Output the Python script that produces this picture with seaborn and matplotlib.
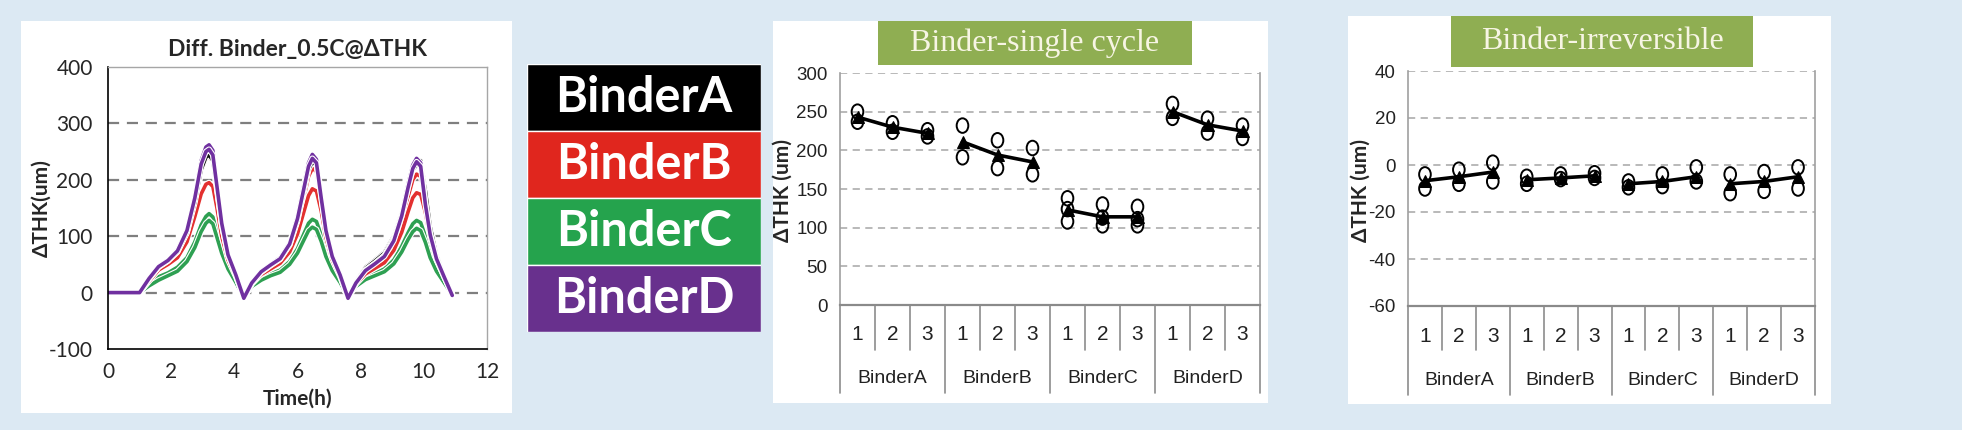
import matplotlib
matplotlib.use("Agg")
import matplotlib.pyplot as plt
import matplotlib.patheffects as pe
import matplotlib.transforms as mtransforms
from matplotlib.patches import Rectangle
from matplotlib.path import Path
import numpy as np
import pandas as pd
import seaborn as sns

# ---- data ------------------------------------------------------------------
binders = ["BinderA", "BinderB", "BinderC", "BinderD"]
cycles = ["1", "2", "3"]

# left panel: thickness change vs time, two runs per binder
time_h = [0, 1.0, 1.3, 1.6, 1.9, 2.2, 2.5, 2.75, 2.95, 3.1, 3.2, 3.32, 3.45, 3.6, 3.8, 4.05, 4.3,
          4.55, 4.85, 5.15, 5.45, 5.75, 6.0, 6.2, 6.35, 6.47, 6.6, 6.75, 6.9, 7.1, 7.35, 7.6,
          7.85, 8.15, 8.45, 8.75, 9.05, 9.3, 9.5, 9.65, 9.77, 9.9, 10.05, 10.2, 10.4, 10.65, 10.9]

binder_a_runs = [
    [0, 0, 24, 46, 57, 73, 108, 165, 224, 247, 250, 240, 185, 122, 68, 32, -10,
     17, 37, 49, 61, 86, 130, 183, 224, 238, 232, 175, 115, 68, 33, -10,
     20, 45, 58, 72, 100, 143, 192, 224, 232, 234, 185, 120, 68, 30, -3],
    [0, 0, 24, 45, 56, 72, 106, 160, 218, 240, 244, 234, 182, 120, 66, 31, -10,
     16, 36, 48, 59, 84, 127, 178, 218, 232, 226, 172, 113, 66, 32, -10,
     19, 43, 56, 70, 97, 139, 186, 218, 226, 228, 180, 117, 66, 29, -3],
]
binder_b_runs = [
    [0, 0, 22, 44, 55, 70, 103, 158, 215, 237, 241, 232, 180, 118, 66, 32, -8,
     16, 35, 46, 57, 80, 120, 168, 206, 220, 215, 168, 112, 66, 32, -9,
     16, 37, 48, 60, 85, 125, 170, 200, 210, 206, 165, 110, 65, 30, -2],
    [0, 0, 20, 40, 50, 62, 90, 135, 175, 192, 195, 188, 150, 100, 58, 28, -8,
     15, 32, 42, 52, 72, 104, 143, 172, 184, 180, 145, 98, 58, 28, -9,
     15, 33, 43, 53, 75, 107, 143, 168, 177, 174, 142, 97, 58, 27, -2],
]
binder_c_runs = [
    [0, 0, 15, 28, 35, 45, 62, 90, 120, 135, 140, 134, 108, 78, 48, 22, -8,
     12, 25, 33, 40, 55, 78, 104, 123, 130, 126, 102, 72, 44, 20, -8,
     12, 26, 34, 42, 58, 82, 106, 122, 128, 124, 100, 70, 42, 19, -4],
    [0, 0, 12, 22, 30, 38, 55, 80, 108, 123, 128, 122, 98, 70, 42, 18, -8,
     11, 22, 30, 36, 50, 70, 93, 110, 116, 112, 91, 64, 39, 18, -8,
     11, 23, 30, 37, 51, 72, 94, 108, 114, 110, 89, 62, 38, 17, -4],
]
binder_d_runs = [
    [0, 0, 26, 47, 58, 76, 112, 172, 234, 258, 262, 252, 192, 125, 68, 32, -10,
     18, 38, 50, 62, 88, 135, 190, 230, 245, 236, 172, 112, 66, 32, -10,
     18, 40, 52, 66, 95, 140, 192, 226, 238, 230, 160, 105, 62, 28, -5],
    [0, 0, 25, 46, 57, 74, 110, 168, 228, 250, 254, 244, 188, 123, 67, 31, -10,
     17, 37, 49, 60, 86, 131, 184, 224, 238, 230, 168, 110, 64, 31, -10,
     17, 39, 51, 64, 92, 136, 186, 220, 232, 224, 156, 103, 60, 27, -5],
]

# middle panel: single-cycle thickness change (replicates + mean)
single_reps = [[250, 237], [235, 224], [226, 218],
               [232, 191], [213, 177], [203, 169],
               [138, 124, 108], [130, 113, 103], [127, 111, 103],
               [260, 242], [241, 223], [232, 216]]
single_means = [243, 230, 222, 211, 194, 185, 123, 114, 114, 250, 233, 225]

# right panel: irreversible thickness change (replicates + mean)
irrev_reps = [[-4, -10], [-2, -8], [1, -7],
              [-5, -8], [-4, -6], [-3.5, -5.5],
              [-7, -9.5], [-4, -9], [-1, -7],
              [-4, -12], [-3, -11], [-1, -10]]
irrev_means = [-6.7, -5, -3, -6.3, -5.5, -4.6, -8, -7, -5, -8, -7, -5]

# ---- style -------------------------------------------------------------------
W, H = 1962, 430
BG = "#dce9f3"
TITLE_GREEN = "#8fae52"
legend_colors = ["#000000", "#e0261e", "#25a34d", "#68308d"]
line_colors = ["#111111", "#e3302f", "#2ea052", "#7030a0"]
SANS = ["Lato", "DejaVu Sans"]
NARROW = ["Liberation Sans Narrow", "Liberation Sans", "DejaVu Sans"]
SERIF = ["Liberation Serif", "DejaVu Serif"]

sns.set_theme(style="white")
plt.rcParams["font.family"] = SANS
plt.rcParams["axes.unicode_minus"] = False


def box(l, t, r, b):
    return [l / W, 1 - b / H, (r - l) / W, (b - t) / H]


def panel_bg(fig, l, t, r, b, color="white", z=-1):
    fig.patches.append(Rectangle((l / W, 1 - b / H), (r - l) / W, (b - t) / H,
                                 transform=fig.transFigure, facecolor=color,
                                 edgecolor="none", zorder=z))


fig = plt.figure(figsize=(W / 100, H / 100), dpi=100, facecolor=BG)

# ---- left: time series -------------------------------------------------------
panel_bg(fig, 21, 21, 512, 413)
ax1 = fig.add_axes(box(108, 67, 487, 349))
glow = [pe.Stroke(linewidth=4.2, foreground="white"), pe.Normal()]
draw_order = [(line_colors[2], binder_c_runs), (line_colors[1], binder_b_runs),
              (line_colors[0], binder_a_runs), (line_colors[3], binder_d_runs)]
for color, runs in draw_order:
    for run in runs:
        sns.lineplot(x=time_h, y=run, color=color, lw=2.6, ax=ax1, path_effects=glow)

ax1.set_xlim(0, 12)
ax1.set_ylim(-100, 400)
ax1.set_xticks(range(0, 13, 2))
ax1.set_yticks(range(-100, 401, 100))
ax1.yaxis.grid(True, linestyle=(0, (5, 3.5)), color="#7f7f7f", lw=1.6)
ax1.set_axisbelow(True)
gls = ax1.get_ygridlines()
gls[0].set_visible(False)
gls[-1].set_visible(False)
for side in ("left", "bottom"):
    ax1.spines[side].set_color("black")
    ax1.spines[side].set_linewidth(1.2)
for side in ("top", "right"):
    ax1.spines[side].set_color("#a6a6a6")
    ax1.spines[side].set_linewidth(1.0)
ax1.tick_params(axis="x", direction="in", length=5, width=1, color="black",
                labelsize=15, pad=9)
ax1.tick_params(axis="y", length=0, labelsize=15, pad=11)
ax1.set_title("Diff. Binder_0.5C@ΔTHK", fontsize=16.5, fontweight="bold", pad=8)
ax1.set_xlabel("Time(h)", fontsize=15, fontweight="bold")
ax1.set_ylabel("ΔTHK(um)", fontsize=15, fontweight="bold")
ax1.xaxis.set_label_coords(0.5, -0.14)
ax1.yaxis.set_label_coords(-0.15, 0.5)

# ---- legend block ---------------------------------------------------------
axl = fig.add_axes(box(527, 64, 761, 332))
sns.barplot(x=[1] * len(binders), y=binders, hue=binders, palette=legend_colors,
            orient="h", width=1.0, saturation=1, legend=False, ax=axl)
axl.set_xlim(0, 1)
axl.set_ylim(len(binders) - 0.5, -0.5)
for i, name in enumerate(binders):
    axl.text(0.5, i, name, color="white", fontsize=35, fontweight="bold",
             ha="center", va="center")
axl.axis("off")

# ---- category panels -----------------------------------------------------
ellipse = Path.unit_circle().transformed(mtransforms.Affine2D().scale(0.8, 1.0))


def category_panel(ax, reps, means, ylim, step, short_end, long_end, label_y, group_y):
    pos = np.arange(len(binders) * len(cycles))
    rep_df = pd.DataFrame([(p, v) for p, vals in zip(pos, reps) for v in vals],
                          columns=["pos", "value"])
    mean_df = pd.DataFrame({"pos": pos, "value": means,
                            "binder": np.repeat(binders, len(cycles))})
    sns.lineplot(data=mean_df, x="pos", y="value", units="binder", estimator=None,
                 color="black", lw=2.6, marker="^", markersize=8,
                 markeredgecolor="black", ax=ax, zorder=3)
    sns.scatterplot(data=rep_df, x="pos", y="value", marker=ellipse, s=110,
                    facecolor="none", edgecolor="black", linewidth=1.4, ax=ax, zorder=4)

    ax.set_xlim(-0.5, len(pos) - 0.5)
    ax.set_ylim(*ylim)
    ax.set_yticks(np.arange(ylim[0], ylim[1] + 1, step))
    ax.yaxis.grid(True, linestyle=(0, (4, 3)), color="#b3b3b3", lw=1.3)
    ax.set_axisbelow(True)
    ax.get_ygridlines()[0].set_visible(False)
    ax.set_xticks([])
    ax.set_xlabel("")
    ax.spines["top"].set_visible(False)
    for side in ("left", "right"):
        ax.spines[side].set_color("#a0a0a0")
        ax.spines[side].set_linewidth(1.2)
    ax.spines["bottom"].set_color("#8a8a8a")
    ax.spines["bottom"].set_linewidth(1.6)
    ax.tick_params(axis="y", length=0, labelsize=13.5, pad=9, labelcolor="#222222")
    for lab in ax.get_yticklabels():
        lab.set_family(NARROW)

    trans = mtransforms.blended_transform_factory(ax.transData, ax.transAxes)
    ncyc = len(cycles)
    for k in range(len(pos) + 1):
        x = k - 0.5
        end = long_end if k % ncyc == 0 else short_end
        ax.plot([x, x], [0, end], transform=trans, color="#8c8c8c", lw=1.2,
                clip_on=False)
    for p in pos:
        ax.text(p, label_y, cycles[p % ncyc], transform=trans, ha="center",
                va="center", fontsize=15, family=NARROW, color="#222222")
    for g, name in enumerate(binders):
        ax.text(g * ncyc + 1, group_y, name, transform=trans, ha="center",
                va="center", fontsize=14, family=NARROW, color="#222222")
    ax.set_ylabel("")


def title_box(fig, l, t, r, b, text):
    panel_bg(fig, l, t, r, b, TITLE_GREEN, z=1)
    fig.text((l + r) / 2 / W, 1 - (t + b) / 2 / H, text, ha="center", va="center",
             fontsize=23, family=SERIF, color="#f7f5e4", zorder=2)


# middle
panel_bg(fig, 773, 21, 1268, 403)
ax2 = fig.add_axes(box(840, 73, 1260, 305))
category_panel(ax2, single_reps, single_means, (0, 300), 50,
               -0.194, -0.379, -0.129, -0.315)
title_box(fig, 878, 21, 1192, 65, "Binder-single cycle")
fig.text(783 / W, 1 - 190 / H, "ΔTHK (um)", rotation=90, ha="center", va="center",
         fontsize=15, fontweight="bold")

# right
panel_bg(fig, 1348, 16, 1831, 404)
ax3 = fig.add_axes(box(1408, 71, 1815, 306))
category_panel(ax3, irrev_reps, irrev_means, (-60, 40), 20,
               -0.187, -0.379, -0.13, -0.315)
title_box(fig, 1451, 16, 1753, 67, "Binder-irreversible")
fig.text(1361 / W, 1 - 190 / H, "ΔTHK (um)", rotation=90, ha="center", va="center",
         fontsize=15, fontweight="bold")

fig.savefig("out.png", dpi=100, facecolor=BG)
